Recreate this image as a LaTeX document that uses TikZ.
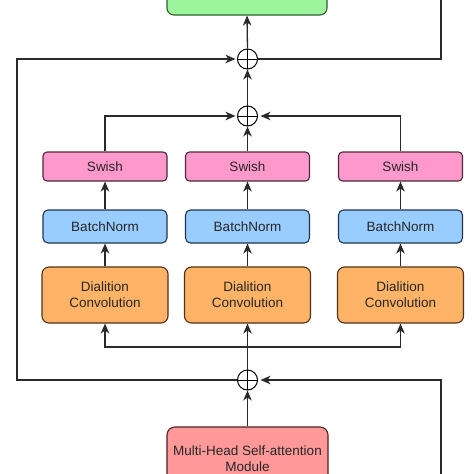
\documentclass[tikz,border=0pt]{standalone}
\usepackage{fontspec}
\setmainfont{Liberation Sans}
\usetikzlibrary{arrows.meta,calc}
\definecolor{gfill}{HTML}{9CF59C}
\definecolor{gline}{HTML}{2E5E2E}
\definecolor{pfill}{HTML}{FF99CC}
\definecolor{pline}{HTML}{4A2A3A}
\definecolor{bfill}{HTML}{99CCFF}
\definecolor{bline}{HTML}{1F3550}
\definecolor{ofill}{HTML}{FFB366}
\definecolor{oline}{HTML}{4D3319}
\definecolor{rfill}{HTML}{FF9999}
\definecolor{rline}{HTML}{4D2222}
\definecolor{wire}{HTML}{2A2A2A}
\tikzset{
  box/.style={draw, line width=1.1pt, rounded corners=4pt, align=center, inner sep=0pt,
    font=\fontsize{13.5}{16}\selectfont, text=black!85},
  swishbox/.style={box, fill=pfill, draw=pline, minimum width=124pt, minimum height=29pt},
  bnbox/.style={box, fill=bfill, draw=bline, minimum width=124pt, minimum height=33pt, rounded corners=5pt},
  convbox/.style={box, fill=ofill, draw=oline, minimum width=126pt, minimum height=56pt, rounded corners=7pt},
  sumnode/.style={circle, draw=black, line width=1pt, minimum size=20pt, inner sep=0pt,
    path picture={\draw[line width=1pt] (path picture bounding box.west) -- (path picture bounding box.east)
      (path picture bounding box.north) -- (path picture bounding box.south);}},
  wireline/.style={draw=wire, line width=1.3pt},
  arr/.style={wireline, -{Stealth[length=10pt,width=8.5pt,inset=3pt]}},
}
\begin{document}
\begin{tikzpicture}[x=1pt,y=-1pt]
\useasboundingbox (0,0) rectangle (474,474);
\clip (0,0) rectangle (474,474);
% top green box
\node[box, fill=gfill, draw=gline, minimum width=160pt, minimum height=40pt, rounded corners=7pt] (green) at (247,-5) {};
% sum nodes
\node[sumnode] (c1) at (247.5,59) {};
\node[sumnode] (c2) at (247.5,116) {};
\node[sumnode] (c3) at (247.5,380) {};
% columns
\node[swishbox] (ls) at (105,166.5) {Swish};
\node[swishbox] (ms) at (247.5,166.5) {Swish};
\node[swishbox] (rs) at (400.5,166.5) {Swish};
\node[bnbox] (lb) at (105,226.5) {BatchNorm};
\node[bnbox] (mb) at (247.5,226.5) {BatchNorm};
\node[bnbox] (rb) at (400.5,226.5) {BatchNorm};
\node[convbox] (lc) at (105,295) {Dialition\\Convolution};
\node[convbox] (mc) at (247.5,295) {Dialition\\Convolution};
\node[convbox] (rc) at (400.5,295) {Dialition\\Convolution};
% MHSA
\node[box, fill=rfill, draw=rline, minimum width=161pt, minimum height=64pt, rounded corners=8pt] (mhsa) at (247.5,459) {Multi-Head Self-attention\\Module};
% coordinates
\coordinate (br) at (247.5,347);
\coordinate (lt) at (17,59);
\coordinate (lb0) at (17,380);
\coordinate (rt) at (441,59);
\coordinate (rtop) at (441,-5);
\coordinate (rb0) at (441,380);
\coordinate (rbot) at (441,480);
% connectors
\draw[arr] (mhsa.north) -- (c3.south);
\draw[arr] (c3.north) -- (mc.south);
\draw[arr] (br) -| (lc.south);
\draw[arr] (br) -| (rc.south);
\foreach \p in {l,m,r}{
  \draw[arr] (\p c.north) -- (\p b.south);
  \draw[arr] (\p b.north) -- (\p s.south);
}
\draw[arr, shorten >=1.5pt] (ls.north) |- (c2.west);
\draw[arr, shorten >=2.5pt] (rs.north) |- (c2.east);
\draw[arr] (ms.north) -- (c2.south);
\draw[arr] (c2.north) -- (c1.south);
\draw[arr] (c1.north) -- (green.south);
\draw[arr, shorten >=1.5pt] (c3.west) -- (lb0) -- (lt) -- (c1.west);
\draw[arr, shorten >=2.5pt] (rbot) -- (rb0) -- (c3.east);
\draw[wireline] (c1.east) -- (rt) -- (rtop);
\end{tikzpicture}
\end{document}
